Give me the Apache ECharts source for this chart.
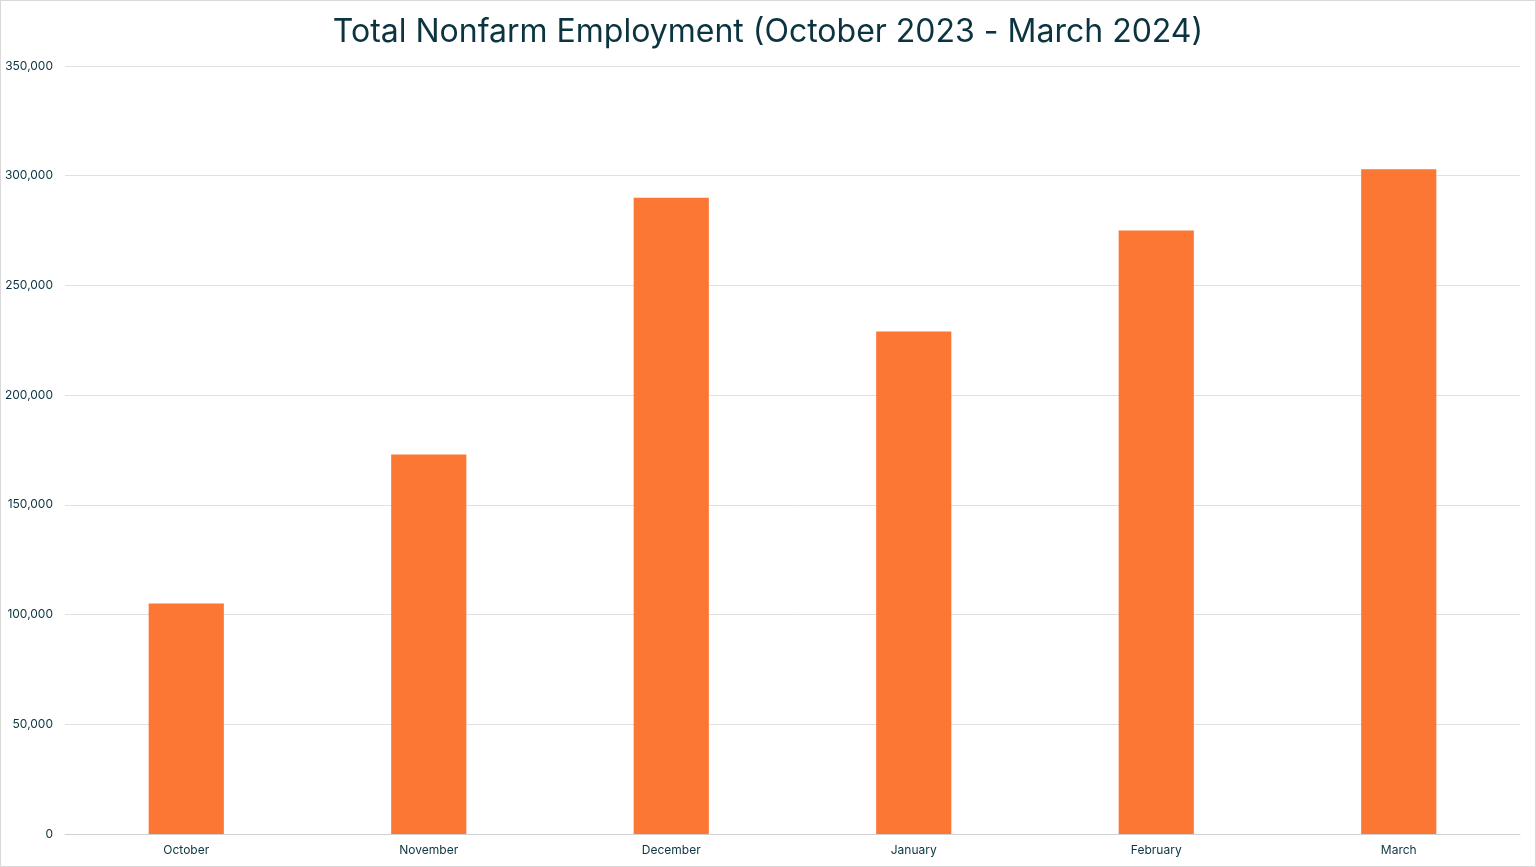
<!DOCTYPE html>
<html>
<head>
<meta charset="utf-8">
<script src="https://cdn.jsdelivr.net/npm/echarts@6/dist/echarts.min.js"></script>
<style>
  html, body { margin: 0; padding: 0; background: #fff; }
  #chart { width: 1534px; height: 865px; border: 1px solid #d9d9d9; }
</style>
</head>
<body>
<div id="chart"></div>
<script>
var months = ['October', 'November', 'December', 'January', 'February', 'March'];
var employment = [105000, 173000, 290000, 229000, 275000, 303000];

var chart = echarts.init(document.getElementById('chart'));
chart.setOption({
  textStyle: { fontFamily: 'Inter' },
  title: {
    text: 'Total Nonfarm Employment (October 2023 - March 2024)',
    left: 'center',
    top: 10,
    textStyle: { fontFamily: 'Inter', fontSize: 32, fontWeight: 'normal', color: '#0b3440' }
  },
  grid: { left: 64, right: 15, top: 65, bottom: 32 },
  xAxis: {
    type: 'category',
    data: months,
    axisTick: { show: false },
    axisLine: { lineStyle: { color: '#d0d0d0' } },
    axisLabel: { color: '#0b3440', fontSize: 12, margin: 10 }
  },
  yAxis: {
    type: 'value',
    min: 0,
    max: 350000,
    interval: 50000,
    axisLabel: { color: '#0b3440', fontSize: 12, margin: 12 },
    splitLine: { lineStyle: { color: '#e0e0e0' } }
  },
  series: [{
    type: 'bar',
    data: employment,
    barWidth: '31%',
    itemStyle: { color: '#fc7634' }
  }]
});
</script>
</body>
</html>
